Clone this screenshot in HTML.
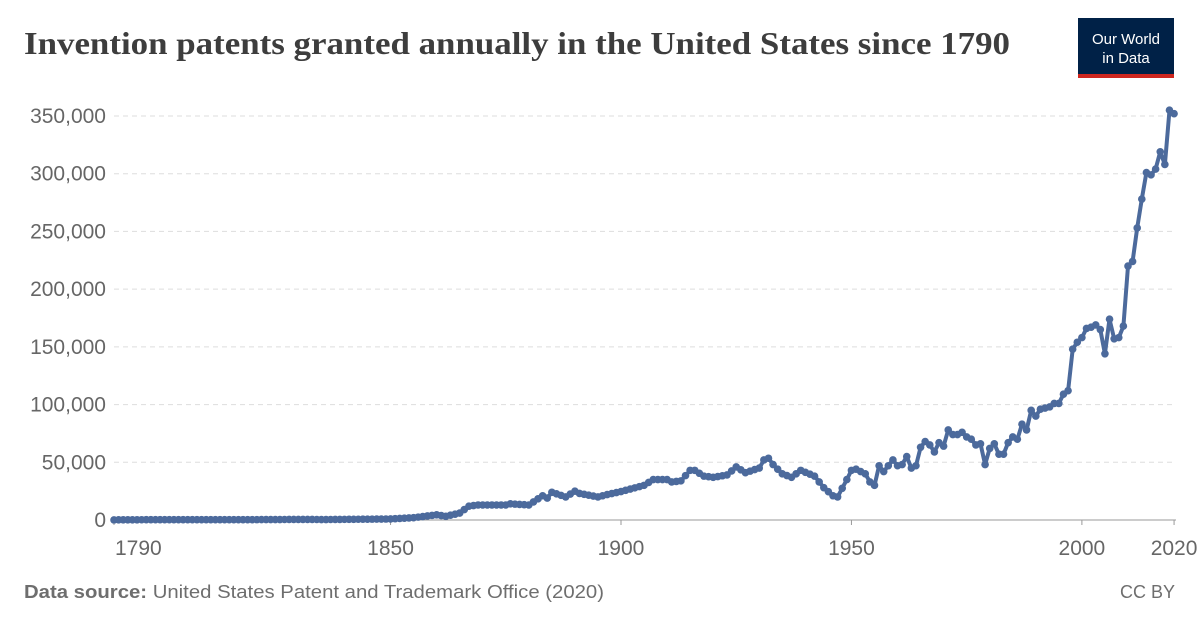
<!DOCTYPE html>
<html><head><meta charset="utf-8"><style>
body{margin:0;width:1200px;height:627px;background:#fff;overflow:hidden;font-family:"Liberation Sans",sans-serif;}
svg{position:absolute;left:0;top:0}
</style></head><body>
<svg id="s" width="1200" height="627" xmlns="http://www.w3.org/2000/svg">
<text x="24" y="54" font-family="Liberation Serif,serif" font-size="32" font-weight="bold" fill="#3d3d3d" textLength="986" lengthAdjust="spacingAndGlyphs">Invention patents granted annually in the United States since 1790</text>
<rect x="1078" y="18" width="96" height="60" fill="#002147"/>
<rect x="1078" y="74" width="96" height="4" fill="#ce261e"/>
<text x="1126" y="44" text-anchor="middle" font-size="15" fill="#fff">Our World</text>
<text x="1126" y="63" text-anchor="middle" font-size="15" fill="#fff">in Data</text>
<g id="grid"></g>
<g id="plot"></g>
<text x="24" y="598" font-size="18" fill="#6e6e6e" textLength="580" lengthAdjust="spacingAndGlyphs"><tspan font-weight="bold">Data source:</tspan> United States Patent and Trademark Office (2020)</text>
<text x="1175" y="598" font-size="18" fill="#6e6e6e" text-anchor="end">CC BY</text>
</svg>
<script>
const NS="http://www.w3.org/2000/svg";
function el(t,a,p,txt){const e=document.createElementNS(NS,t);for(const k in a)e.setAttribute(k,a[k]);if(txt!==undefined)e.textContent=txt;p.appendChild(e);return e;}
const X=y=>114+(y-1790)*4.609, Y=v=>520-v/350000*404;
const g=document.getElementById('grid'),p=document.getElementById('plot');
for(let i=0;i<=7;i++){const y=Y(i*50000);
 if(i>0)el('line',{x1:114,x2:1176,y1:y,y2:y,stroke:'#ddd','stroke-dasharray':'5,4'},g);
 el('text',{x:106,y:y+7,'text-anchor':'end','font-size':21,fill:'#666'},g,i==0?'0':(i*50000).toLocaleString('en-US'));}
el('line',{x1:114,x2:1176,y1:520,y2:520,stroke:'#999'},g);
[[1790,'start'],[1850,'middle'],[1900,'middle'],[1950,'middle'],[2000,'middle'],[2020,'middle']].forEach(([yr,a])=>{
 el('line',{x1:X(yr),x2:X(yr),y1:520,y2:525,stroke:'#999'},g);
 el('text',{x:a=='start'?X(yr)+1:X(yr),y:555,'text-anchor':a,'font-size':21,fill:'#666'},g,yr);});
const k={1790:100,1800:300,1810:300,1820:300,1830:500,1836:400,1850:900,1855:2000,1860:4500,1862:3200,1865:6000,1867:12000,1869:13000,1875:13000,1876:14000,1880:13000,1883:21000,1884:19000,1885:24000,1888:20000,1890:25000,1891:23000,1895:20000,1897:22000,1900:24600,1905:30000,1907:35000,1910:35000,1911:33000,1913:33900,1915:43000,1916:43000,1918:38000,1920:37000,1923:39000,1925:46000,1927:41000,1930:45000,1931:52000,1932:53500,1933:48000,1935:40000,1937:37000,1939:43000,1942:38000,1944:28000,1946:21000,1947:20000,1949:35000,1950:43000,1951:44000,1953:40000,1954:33000,1955:30000,1956:47000,1957:42000,1959:52000,1960:47000,1961:48000,1962:55000,1963:45000,1964:47000,1965:63000,1966:68000,1967:65000,1968:59000,1969:67000,1970:64000,1971:78000,1972:74000,1973:74000,1974:76000,1975:72000,1976:70000,1977:65000,1978:66000,1979:48000,1980:62000,1981:66000,1982:57000,1983:57000,1984:67000,1985:72000,1986:70000,1987:83000,1988:78000,1989:95000,1990:90000,1991:96000,1992:97000,1993:98000,1994:101000,1995:101000,1996:109000,1997:112000,1998:148000,1999:154000,2000:158000,2001:166000,2002:167000,2003:169000,2004:165000,2005:144000,2006:174000,2007:157000,2008:158000,2009:168000,2010:220000,2011:224000,2012:253000,2013:278000,2014:301000,2015:299000,2016:304000,2017:319000,2018:308000,2019:355000,2020:352000};
const ks=Object.keys(k).map(Number).sort((a,b)=>a-b);const pts=[];
for(let i=0;i<ks.length-1;i++){const a=ks[i],b=ks[i+1];for(let y=a;y<b;y++)pts.push([y,k[a]+(k[b]-k[a])*(y-a)/(b-a)]);}
pts.push([2020,k[2020]]);
el('polyline',{points:pts.map(([y,v])=>X(y).toFixed(1)+','+Y(v).toFixed(1)).join(' '),fill:'none',stroke:'#4c6a9c','stroke-width':4,'stroke-linejoin':'round'},p);
pts.forEach(([y,v])=>el('circle',{cx:X(y),cy:Y(v),r:3.8,fill:'#4c6a9c'},p));
</script>
</body></html>
